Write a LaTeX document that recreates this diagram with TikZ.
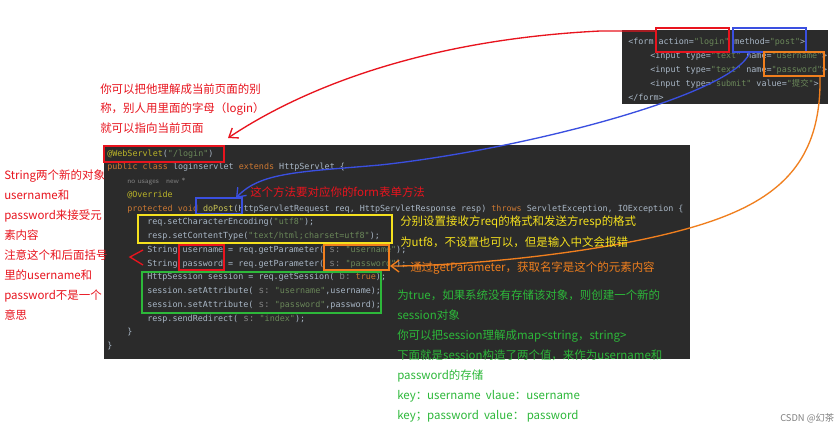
\documentclass[tikz,border=0pt]{standalone}
\usepackage{fontspec}
\setmonofont{DejaVu Sans Mono}
\newfontfamily\cjk{Noto Sans CJK SC}
\usetikzlibrary{arrows.meta}
\definecolor{bg}{HTML}{2B2B2B}
\definecolor{kw}{HTML}{CC7832}
\definecolor{st}{HTML}{6A8759}
\definecolor{an}{HTML}{BBB529}
\definecolor{df}{HTML}{A9B7C6}
\definecolor{gr}{HTML}{808080}
\definecolor{ared}{HTML}{E8141E}
\definecolor{ablue}{HTML}{3A4FE0}
\definecolor{aor}{HTML}{F07F1E}
\definecolor{agr}{HTML}{2DB83A}
\definecolor{ayel}{HTML}{F5E11E}
\newcommand{\myK}[1]{\textcolor{kw}{#1}}
\newcommand{\myS}[1]{\textcolor{st}{#1}}
\newcommand{\myA}[1]{\textcolor{an}{#1}}
\newcommand{\myH}[1]{\textcolor{gr}{\scriptsize #1}}
\tikzset{
 code/.style={anchor=west,inner sep=0pt,font=\ttfamily\fontsize{6.3}{7}\selectfont,text=df},
 note/.style={anchor=west,inner sep=0pt,font=\cjk\fontsize{8.6}{10}\selectfont},
 markbox/.style={draw,line width=0.9pt},
 arr/.style={line width=1pt,-{Straight Barb[length=6pt,width=9pt]}}
}
\begin{document}
\begin{tikzpicture}[x=0.75pt,y=-0.75pt]
\useasboundingbox (0,0) rectangle (838,433);
\fill[white] (0,0) rectangle (838,433);
% panels
\fill[bg] (104,145) rectangle (690,359);
\fill[bg] (622,30) rectangle (828,104);
% top html
\node[code] (f1) at (628,42) {<form \textcolor{df}{action=}\myS{"login"} method=\myS{"post"}>};
\node[code] (f2) at (650,56) {<input type=\myS{"text"} name=\myS{"username"}>};
\node[code] (f3) at (650,70) {<input type=\myS{"text"} name=\myS{"password"}>};
\node[code] (f4) at (650,84) {<input type=\myS{"submit"} value=\myS{"{\cjk 提交}"}>};
\node[code] (f5) at (628,98) {</form>};
% java code
\node[code] (c1) at (107,154) {\myA{@WebServlet}(\myS{"/login"})};
\node[code] (c2) at (107,167) {\myK{public class} loginservlet \myK{extends} HttpServlet \{};
\node[code,text=gr,font=\sffamily\fontsize{5.5}{6}\selectfont] (c3) at (127,181) {no usages\quad new *};
\node[code] (c4) at (127,195) {\myA{@Override}};
\node[code] (c5) at (127,209) {\myK{protected void} \textcolor{an!80!white}{doPost}(HttpServletRequest req, HttpServletResponse resp) \myK{throws} ServletException, IOException \{};
\node[code] (c6) at (147,222) {req.setCharacterEncoding(\myS{"utf8"});};
\node[code] (c7) at (147,236) {resp.setContentType(\myS{"text/html;charset=utf8"});};
\node[code] (c8) at (147,250) {String username = req.getParameter( \myH{s:} \myS{"username"});};
\node[code] (c9) at (147,264) {String password = req.getParameter( \myH{s:} \myS{"password"});};
\node[code] (c10) at (147,277) {HttpSession session = req.getSession( \myH{b:} \myK{true});};
\node[code] (c11) at (147,291) {session.setAttribute( \myH{s:} \myS{"username"},username);};
\node[code] (c12) at (147,305) {session.setAttribute( \myH{s:} \myS{"password"},password);};
\node[code] (c13) at (147,319) {resp.sendRedirect( \myH{s:} \myS{"index"});};
\node[code] (c14) at (127,332) {\}};
\node[code] (c15) at (107,346) {\}};
% marker boxes
\draw[markbox,ared] (104,146) rectangle (224,162);
\draw[markbox,ablue] (196,198) rectangle (242,214);
\draw[markbox,ayel] (138,215) rectangle (392,243);
\draw[markbox,ared] (179,245) rectangle (224,270);
\draw[markbox,aor] (324,245) rectangle (389,270);
\draw[markbox,agr] (142,272) rectangle (381,313);
\draw[markbox,ared] (656,28) rectangle (729,52);
\draw[markbox,ablue] (733,28) rectangle (806,52);
\draw[markbox,aor] (764,52) rectangle (824,76);
\coordinate (loginbox) at (656,31);
\coordinate (webbox) at (228,138);
\coordinate (postbox) at (750,52);
\coordinate (dopost) at (236,198);
\coordinate (pwbox) at (820,76);
\coordinate (orbox) at (390,266);
% arrows
\draw[arr,ared] (loginbox) -- (600,31) .. controls (420,40) and (300,90) .. (webbox);
\draw[arr,ablue] (postbox) .. controls (735,95) and (520,150) .. (380,165) .. controls (300,172) and (260,172) .. (dopost);
\draw[arr,aor] (pwbox) .. controls (822,180) and (760,215) .. (640,240) .. controls (540,260) and (440,266) .. (orbox);
\draw[ared,line width=1pt] (143,250) -- (130,257) -- (143,265);
% notes
\node[note,text=ared] (n1) at (100,89) {你可以把他理解成当前页面的别};
\node[note,text=ared] (n2) at (100,109) {称，别人用里面的字母（login）};
\node[note,text=ared] (n3) at (100,128) {就可以指向当前页面};
\node[note,text=ared] (n4) at (250,192) {这个方法要对应你的form表单方法};
\node[note,text=ared,align=left,anchor=north west,font=\cjk\fontsize{8.6}{14.9}\selectfont] (n5) at (4,170) {String两个新的对象\\username和\\password来接受元\\素内容\\注意这个和后面括号\\里的username和\\password不是一个\\意思};
\node[note,text=ayel] (n6) at (400,222) {分别设置接收方req的格式和发送方resp的格式};
\node[note,text=ayel] (n7) at (400,242) {为utf8，不设置也可以，但是输入中文会报错};
\node[note,text=aor] (n8) at (410,268) {通过getParameter，获取名字是这个的元素内容};
\node[note,text=agr,align=left,anchor=north west,font=\cjk\fontsize{8.6}{14.9}\selectfont] (n9) at (397,290) {为true，如果系统没有存储该对象，则创建一个新的\\session对象\\你可以把session理解成map<string，string>\\下面就是session构造了两个值，来作为username和\\password的存储\\key：username\ \ vlaue：username\\key；password\ \ value：\ password};
\node[note,text=gr,font=\cjk\fontsize{7}{8}\selectfont] (wm) at (780,418) {CSDN @幻茶};
\end{tikzpicture}
\end{document}
